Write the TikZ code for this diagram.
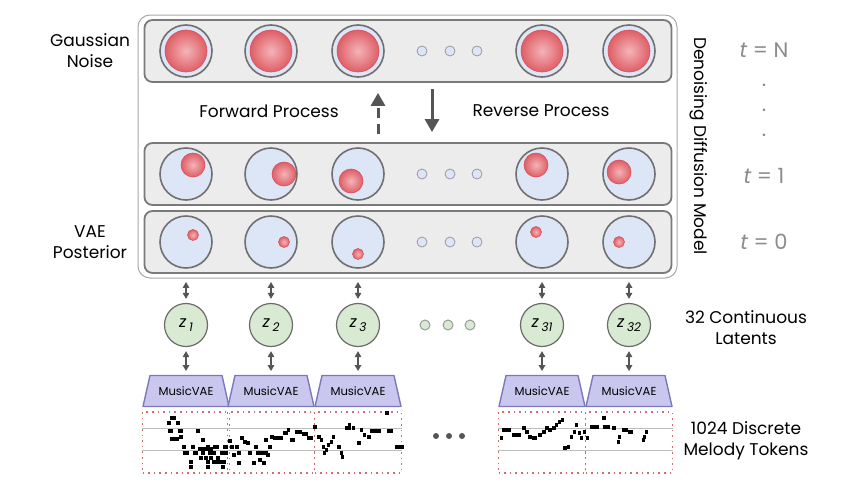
\documentclass[tikz,border=0pt]{standalone}
\usepackage{fontspec}
\setmainfont{Poppins}
\usepackage{tikz}
\usetikzlibrary{arrows.meta}
\usetikzlibrary{shapes.geometric}
\usetikzlibrary{positioning}

\definecolor{boxline}{HTML}{A8A8A8}
\definecolor{rowline}{HTML}{7A7A7A}
\definecolor{rowgray}{HTML}{ECECEC}
\definecolor{slotline}{HTML}{707070}
\definecolor{slotblue}{HTML}{DCE6F6}
\definecolor{dotline}{HTML}{9A9A9A}
\definecolor{blobline}{HTML}{D9505C}
\definecolor{blobin}{HTML}{F4B4B8}
\definecolor{blobout}{HTML}{DE5F66}
\definecolor{latgreen}{HTML}{D9EAD3}
\definecolor{latline}{HTML}{6A6A6A}
\definecolor{vaefill}{HTML}{C9C7EE}
\definecolor{vaeline}{HTML}{7C78BC}
\definecolor{rollred}{HTML}{D46A6A}
\definecolor{gridgray}{HTML}{BDBDBD}
\definecolor{arrowgray}{HTML}{555555}
\definecolor{tgray}{HTML}{8C8C8C}

\tikzset{
	outerbox/.style={draw=boxline, rounded corners=6pt, line width=0.5pt},
	rowbox/.style={draw=rowline, fill=rowgray, rounded corners=4pt, line width=0.9pt,
		minimum width=263.5pt, minimum height=31pt, inner sep=0pt},
	slot/.style={circle, draw=slotline, fill=slotblue, line width=0.8pt, minimum size=26pt, inner sep=0pt},
	blob/.style={circle, draw=blobline, line width=0.3pt, inner color=blobin, outer color=blobout, inner sep=0pt},
	minidot/.style={circle, draw=dotline, fill=slotblue, line width=0.4pt, minimum size=5pt, inner sep=0pt},
	latent/.style={circle, draw=latline, fill=latgreen, line width=0.6pt, minimum size=21.5pt, inner sep=0pt,
		font=\fontsize{8}{9}\selectfont\itshape},
	latdot/.style={circle, draw=dotline, fill=latgreen, line width=0.5pt, minimum size=5pt, inner sep=0pt},
	vaebody/.style={draw=vaeline, fill=vaefill, line width=0.7pt, line join=round},
	vae/.style={minimum width=36pt, minimum height=15.5pt, inner sep=0pt, font=\fontsize{5.8}{7}\selectfont},
	rollbox/.style={draw=rollred, dash pattern=on 0.8pt off 2pt, line width=0.6pt,
		minimum width=43.5pt, minimum height=30.5pt, inner sep=0pt},
	gridline/.style={draw=gridgray, line width=0.4pt},
	note/.style={fill=black},
	tokdot/.style={circle, fill=arrowgray, minimum size=3pt, inner sep=0pt},
	link/.style={draw=arrowgray, line width=0.8pt, {Triangle[length=3pt,width=3.2pt]}-{Triangle[length=3pt,width=3.2pt]}},
	bigarrow/.style={draw=arrowgray, line width=1.5pt, -{Triangle[length=6.5pt,width=7pt]}},
	lbl/.style={align=center, font=\fontsize{8.5}{10.5}\selectfont},
	tlabel/.style={text=tgray, font=\fontsize{10.5}{12}\selectfont},
}

\begin{document}
\begin{tikzpicture}[x=0.5pt, y=-0.5pt]
	\useasboundingbox (0,0) rectangle (860,487);
	\draw[outerbox] (138,15) rectangle (677,278);
	\node[rowbox] (rowN) at (408,51) {};
	\node[rowbox] (row1) at (408,174) {};
	\node[rowbox] (row0) at (408,242) {};

	% columns: x, latent index, blob offsets for t=1 and t=0
	\foreach \x/\k/\ax/\ay/\bx/\by [count=\i] in {186/1/7/-9/7/-7, 271/2/13/0/13/0, 358/3/-7/7/0/12,
			542/31/-6/-9/-6/-10, 629/32/-10/-2/-10/0} {
		\node[slot] (n\i) at (\x,51) {};
		\node[blob, minimum size=21pt] (rn\i) at (n\i) {};
		\node[slot] (a\i) at (\x,174) {};
		\node[blob, minimum size=12pt] (ra\i) at ([shift={(\ax,\ay)}]a\i) {};
		\node[slot] (b\i) at (\x,242) {};
		\node[blob, minimum size=5.5pt] (rb\i) at ([shift={(\bx,\by)}]b\i) {};
		\node[latent] (z\i) at (\x,325) {z\,\raisebox{-0.45ex}{\fontsize{6}{7}\selectfont\k}};
		\draw[vaebody] (\x-43,406.5) -- (\x-36,375.5) -- (\x+36,375.5) -- (\x+43,406.5) -- cycle;
		\node[vae] (m\i) at (\x,391) {MusicVAE};
		\node[rollbox] (r\i) at (\x,442.5) {};
		\draw[gridline] ([yshift=7.25pt]r\i.west) -- ([yshift=7.25pt]r\i.east);
		\draw[gridline] ([yshift=-3.75pt]r\i.west) -- ([yshift=-3.75pt]r\i.east);
		\draw[link, shorten <=4pt, shorten >=2pt] (row0.south -| z\i) -- (z\i.north);
		\draw[link, shorten <=2pt, shorten >=2pt] (z\i.south) -- (m\i.north);
	}
	\foreach \x in {422,450,477} {
		\node[minidot] (dn\x) at (\x,51) {};
		\node[minidot] (da\x) at (\x,174) {};
		\node[minidot] (db\x) at (\x,242) {};
	}
	\foreach \x in {425,448,470}
		\node[latdot] (dz\x) at (\x,325) {};
	\foreach \x in {436,449,462}
		\node[tokdot] (dr\x) at (\x,436) {};

	% melody notes
	\foreach \x/\y/\w in {170/418/5, 167/423/3, 176/423/3, 168/431/4, 178/431/4, 196/431/3, 179/437/3,
			170/439/8, 201/440/3, 182/447/3, 191/447/3, 206/447/3, 213/447/5, 223/447/4, 198/449/14,
			183/453/5, 193/453/4, 201/453/3, 208/453/7, 220/453/7, 199/458/3, 204/458/3, 209/458/3,
			216/458/3, 189/462/3, 206/462/3, 212/462/13, 189/467/3, 206/467/3, 221/467/3,
			228/441/3, 230/447/3, 232/455/3, 235/447/3, 237/453/3, 237/463/3, 240/438/3, 243/442/3,
			246/443/3, 248/453/3, 254/447/3, 252/463/3, 258/460/3, 262/463/3, 264/440/3, 268/447/3,
			266/455/3, 270/437/3, 256/453/11, 273/438/9, 283/433/4, 287/430/2, 290/440/4, 295/432/6,
			302/434/5, 307/438/5, 313/427/3,
			317/437/3, 320/440/2, 322/447/2, 323/453/2, 325/450/2, 327/445/2, 330/442/2, 332/437/2,
			337/447/3, 340/453/2, 341/457/2, 345/428/5, 348/425/2, 352/428/2, 357/443/3, 360/430/2,
			363/435/2, 367/437/3, 370/431/10, 385/413/3, 387/431/5, 395/447/8,
			500/438/2, 502/430/8, 512/435/8, 522/428/3, 525/432/3, 528/437/3, 532/438/4, 538/435/3,
			542/432/3, 545/428/3, 548/430/3, 552/428/3, 555/425/2, 558/422/2, 561/420/2, 563/448/3,
			567/447/2, 570/437/2, 573/432/2, 575/425/2, 578/433/2, 580/438/2, 583/432/2,
			586/438/2, 590/427/8, 602/418/3, 603/427/6, 612/428/3, 617/442/2, 618/437/2, 622/430/5,
			628/432/4, 645/432/2, 643/437/2, 642/440/2}
		\fill[note] (\x-0.5,\y-1.7) rectangle ++(\w+1.5,3.4);

	% forward and reverse process
	\coordinate (fwd) at (378,0);
	\coordinate (rev) at (432,0);
	\draw[bigarrow, dash pattern=on 5pt off 3pt, shorten <=4pt, shorten >=5pt] (row1.north -| fwd) -- (rowN.south -| fwd);
	\draw[bigarrow, shorten <=3pt, shorten >=5pt] (rowN.south -| rev) -- (row1.north -| rev);
	\node[lbl] (fwdlbl) at (269,111) {Forward Process};
	\node[lbl] (revlbl) at (541,111) {Reverse Process};

	\node[lbl] (gauss) at (90,51) {Gaussian\\Noise};
	\node[lbl] (post) at (90,242) {VAE\\Posterior};
	\node[lbl, rotate=-90] (ddm) at (699,146) {Denoising Diffusion Model};

	\node[tlabel] (tN) at (764,50) {{\itshape t} = N};
	\node[tlabel] (tdot1) at (764,85) {.};
	\node[tlabel] (tdot2) at (764,110) {.};
	\node[tlabel] (tdot3) at (764,135) {.};
	\node[tlabel] (t1) at (764,176) {{\itshape t} = 1};
	\node[tlabel] (t0) at (764,242) {{\itshape t} = 0};

	\node[lbl] (latlbl) at (746,328) {32 Continuous\\Latents};
	\node[lbl] (toklbl) at (746,441) {1024 Discrete\\Melody Tokens};
\end{tikzpicture}
\end{document}
